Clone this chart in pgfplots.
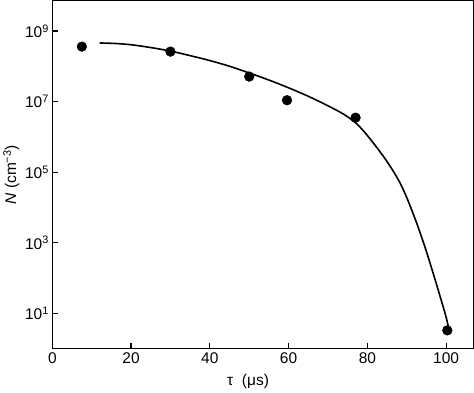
\documentclass[border=0pt]{standalone}
\usepackage{fontspec}
\setmainfont{Liberation Sans}
\usepackage{pgfplots}
\pgfplotsset{compat=1.18}
\begin{document}
\begin{tikzpicture}
\begin{axis}[
  scale only axis,
  width=421pt, height=348pt,
  ymode=log,
  xmin=0, xmax=106.9,
  ymin=1, ymax=7.2e9,
  xtick={0,20,40,60,80,100},
  ytick={1e1,1e3,1e5,1e7,1e9},
  yticklabels={10\textsuperscript{1},10\textsuperscript{3},10\textsuperscript{5},10\textsuperscript{7},10\textsuperscript{9}},
  minor ytick={}, minor xtick={},
  tick pos=left, tick align=inside,
  major tick length=6pt,
  tick style={line width=1.2pt, black},
  axis line style={line width=1.4pt},
  /pgf/number format/assume math mode=true,
  ticklabel style={font=\fontsize{15.5}{18}\selectfont},
  xlabel={τ\ \ (μs)},
  ylabel={\textit{N} (cm\textsuperscript{−3})},
  label style={font=\fontsize{15.5}{18}\selectfont},
  xlabel style={at={(axis description cs:0.465,0)}, anchor=center, yshift=-33pt},
  ylabel style={at={(axis description cs:0,0.5)}, anchor=center, yshift=41pt},
  clip=false,
]
\addplot[only marks, mark=*, mark size=4.9pt, black] coordinates {
  (7.5,3.6e8) (30,2.6e8) (50,5.1e7) (59.6,1.09e7) (77,3.5e6) (100.3,3.3)
};
\addplot[smooth, tension=0.5, line width=1.6pt, black] coordinates {
  (12,4.57e8) (16,4.42e8) (20,4.07e8) (25,3.39e8) (30,2.69e8) (35,2.0e8)
  (40,1.45e8) (45,1.0e8) (50,6.46e7) (55,4.07e7) (60,2.45e7) (65,1.41e7)
  (70,7.59e6) (74,4.37e6) (77,2.51e6) (79,1.48e6) (81,7.94e5) (83,4.07e5)
  (85,2.0e5) (87,8.91e4) (88.5,4.47e4) (90,1.91e4) (91.5,7.24e3)
  (93,2.57e3) (95,562) (97,107) (99,19.1) (100,7.76) (100.9,2.95)
};
\end{axis}
\end{tikzpicture}
\end{document}
